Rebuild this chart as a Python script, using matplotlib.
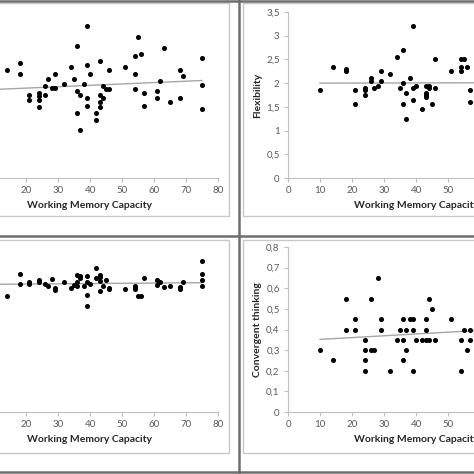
import numpy as np
import matplotlib
matplotlib.use("Agg")
import matplotlib.pyplot as plt
from matplotlib.lines import Line2D
from matplotlib.patches import Rectangle
from matplotlib.ticker import FuncFormatter

plt.rcParams['font.family'] = ['Lato', 'DejaVu Sans']

# --- data ----------------------------------------------------------------
# top-left panel (y axis cut off in the source picture)
tl_x = [14, 18, 18, 21, 21, 24, 24, 24, 24, 26, 26, 27, 28, 29, 29, 32, 34, 35,
        36, 36, 36, 37, 37, 38, 39, 39, 39, 39, 40, 42, 42, 43, 43, 43, 43, 44, 44,
        45, 46, 46, 51, 54, 54, 54, 55, 56, 57, 57, 61, 61, 62, 63, 65, 68, 68, 69,
        75, 75, 75]
tl_y = [2.27, 2.42, 2.19, 1.76, 1.65, 1.80, 1.72, 1.65, 1.49, 1.95, 1.76, 2.08, 1.89, 1.89,
        2.19, 1.99, 2.35, 2.08, 2.78, 1.84, 1.37, 1.76, 1.02, 1.99, 3.21, 2.38, 1.68,
        1.52, 2.19, 1.37, 1.22, 2.46, 1.76, 1.61, 1.49, 1.95, 1.68, 1.88, 1.88, 2.27,
        2.35, 2.58, 2.19, 1.88, 2.97, 2.62, 1.80, 1.52, 1.84, 1.68, 2.04, 2.74, 1.61,
        2.27, 1.68, 2.15, 2.54, 1.96, 1.45]
tl_trend_x = [10, 75]
tl_trend_y = [1.866, 2.056]

# top-right panel: Flexibility
fl_x = [10, 14, 18, 18, 21, 21, 24, 24, 24, 26, 26, 27, 28, 29, 29, 32, 34, 35,
        36, 36, 36, 37, 37, 38, 39, 39, 39, 40, 42, 43, 43, 43, 43, 44, 44, 45,
        46, 46, 51, 54, 55, 54, 54, 56, 57, 57]
fl_y = [1.85, 2.35, 2.30, 2.25, 1.85, 1.55, 1.90, 1.85, 1.75, 2.10, 2.05, 1.90, 1.95,
        2.25, 2.05, 2.20, 2.55, 1.90, 2.70, 2.00, 1.55, 1.80, 1.25, 2.10, 3.20, 1.90,
        1.65, 1.95, 1.45, 1.95, 1.80, 1.75, 1.70, 1.95, 1.90, 1.55, 2.50, 1.90, 2.25,
        2.50, 2.50, 2.35, 2.25, 2.35, 1.85, 1.60]
fl_trend_x = [10, 75]
fl_trend_y = [2.00, 2.01]

# bottom-left panel (y axis cut off in the source picture)
bl_x = [14, 18, 18, 21, 21, 24, 24, 26, 27, 28, 29, 29, 32, 34, 35, 36, 36, 36,
        37, 37, 38, 39, 39, 39, 39, 40, 42, 42, 43, 43, 43, 43, 44, 45, 46, 46,
        51, 54, 54, 54, 55, 56, 57, 61, 61, 62, 63, 65, 68, 68, 69, 75, 75, 75, 75]
bl_y = [2.82, 3.34, 3.11, 3.16, 3.11, 3.20, 3.14, 3.11, 3.06, 3.22, 3.01, 2.95, 3.14,
        3.00, 3.09, 3.31, 3.14, 3.06, 3.29, 3.25, 3.06, 3.29, 3.14, 2.84, 2.58, 3.11,
        3.50, 3.25, 3.33, 3.27, 3.18, 2.93, 3.06, 3.20, 3.01, 2.97, 2.97, 3.06, 3.01,
        2.97, 2.81, 2.82, 3.25, 3.20, 3.09, 3.16, 3.02, 3.06, 3.02, 2.97, 3.14, 3.65,
        3.34, 3.20, 3.05]
bl_trend_x = [10, 75]
bl_trend_y = [3.095, 3.135]

# bottom-right panel: Convergent thinking
cv_x = [10, 14, 18, 18, 21, 21, 24, 24, 24, 24, 26, 26, 27, 28, 29, 29, 32, 34,
        35, 36, 36, 36, 37, 37, 38, 39, 39, 39, 40, 42, 43, 43, 43, 44, 44, 45,
        46, 51, 54, 54, 55, 56, 57, 57]
cv_y = [0.30, 0.25, 0.55, 0.40, 0.45, 0.40, 0.35, 0.30, 0.25, 0.20, 0.55, 0.30, 0.30,
        0.65, 0.45, 0.40, 0.20, 0.35, 0.40, 0.45, 0.35, 0.25, 0.40, 0.30, 0.45, 0.45,
        0.40, 0.20, 0.35, 0.35, 0.45, 0.40, 0.35, 0.55, 0.35, 0.50, 0.35, 0.45, 0.35,
        0.20, 0.40, 0.30, 0.40, 0.35]
cv_trend_x = [10, 75]
cv_trend_y = [0.352, 0.409]

x_label = "Working Memory Capacity"

# --- layout (pixels, measured from top-left of a 474x474 picture) ---------
W = H = 474.0
fig = plt.figure(figsize=(4.74, 4.74), dpi=100)


def fx(px):
    return px / W


def fy(py):
    return 1 - py / H


def make_axes(left, top, right, bottom):
    return fig.add_axes([fx(left), fy(bottom), fx(right - left), (bottom - top) / H])


tick_col = '#595959'
axis_col = '#bfbfbf'


def style(ax, ylim, yticks, ylabel=None):
    ax.set_xlim(0, 80)
    ax.set_xticks(range(0, 81, 10))
    ax.set_ylim(*ylim)
    ax.set_yticks(yticks)
    ax.yaxis.set_major_formatter(FuncFormatter(lambda v, p: ('%g' % v).replace('.', ',')))
    for s in ('top', 'right'):
        ax.spines[s].set_visible(False)
    for s in ('left', 'bottom'):
        ax.spines[s].set_color(axis_col)
        ax.spines[s].set_linewidth(0.8)
    ax.tick_params(direction='out', length=3, width=0.8, color=axis_col,
                   labelsize=7, labelcolor=tick_col, pad=3)
    ax.set_xlabel(x_label, fontsize=7.5, fontweight='bold', color='#262626', labelpad=4)
    if ylabel:
        ax.set_ylabel(ylabel, fontsize=7.5, fontweight='bold', color='#262626', labelpad=3)
    else:
        # y axis of the left panels lies outside the cropped picture
        ax.tick_params(axis='y', labelleft=False)
    ax.patch.set_alpha(0)


panels = [
    ((-38, 12, 218, 178), tl_x, tl_y, tl_trend_x, tl_trend_y, (0, 3.5), np.arange(0, 3.6, 0.5), None),
    ((288, 12, 544, 178), fl_x, fl_y, fl_trend_x, fl_trend_y, (0, 3.5), np.arange(0, 3.6, 0.5), 'Flexibility'),
    ((-38, 247, 218, 412), bl_x, bl_y, bl_trend_x, bl_trend_y, (0, 4), np.arange(0, 4.1, 0.5), None),
    ((288, 247, 544, 412), cv_x, cv_y, cv_trend_x, cv_trend_y, (0, 0.8), np.arange(0, 0.81, 0.1), 'Convergent thinking'),
]

# chart-area frames and the dark grid round them
for (l, t, r, b) in [(-10, 3, 229, 216), (243, 3, 490, 216),
                     (-10, 240, 229, 453), (243, 240, 490, 453)]:
    fig.add_artist(Rectangle((fx(l), fy(b)), fx(r - l), (b - t) / H, transform=fig.transFigure,
                             fill=False, edgecolor='#c8c8c8', linewidth=1.0))
for py in (1, 236, 472):
    fig.add_artist(Line2D([0, 1], [fy(py), fy(py)], transform=fig.transFigure,
                          color='#6e6e6e', linewidth=1.8))
fig.add_artist(Line2D([fx(238.5), fx(238.5)], [0, 1], transform=fig.transFigure,
                      color='#6e6e6e', linewidth=1.8))

for box, xs, ys, txs, tys, ylim, yt, ylab in panels:
    ax = make_axes(*box)
    style(ax, ylim, yt, ylab)
    ax.plot(txs, tys, color='#a6a6a6', linewidth=1.0, zorder=2)
    ax.plot(xs, ys, 'o', color='black', markersize=2.6, zorder=3)

fig.savefig('out.png', dpi=100)
